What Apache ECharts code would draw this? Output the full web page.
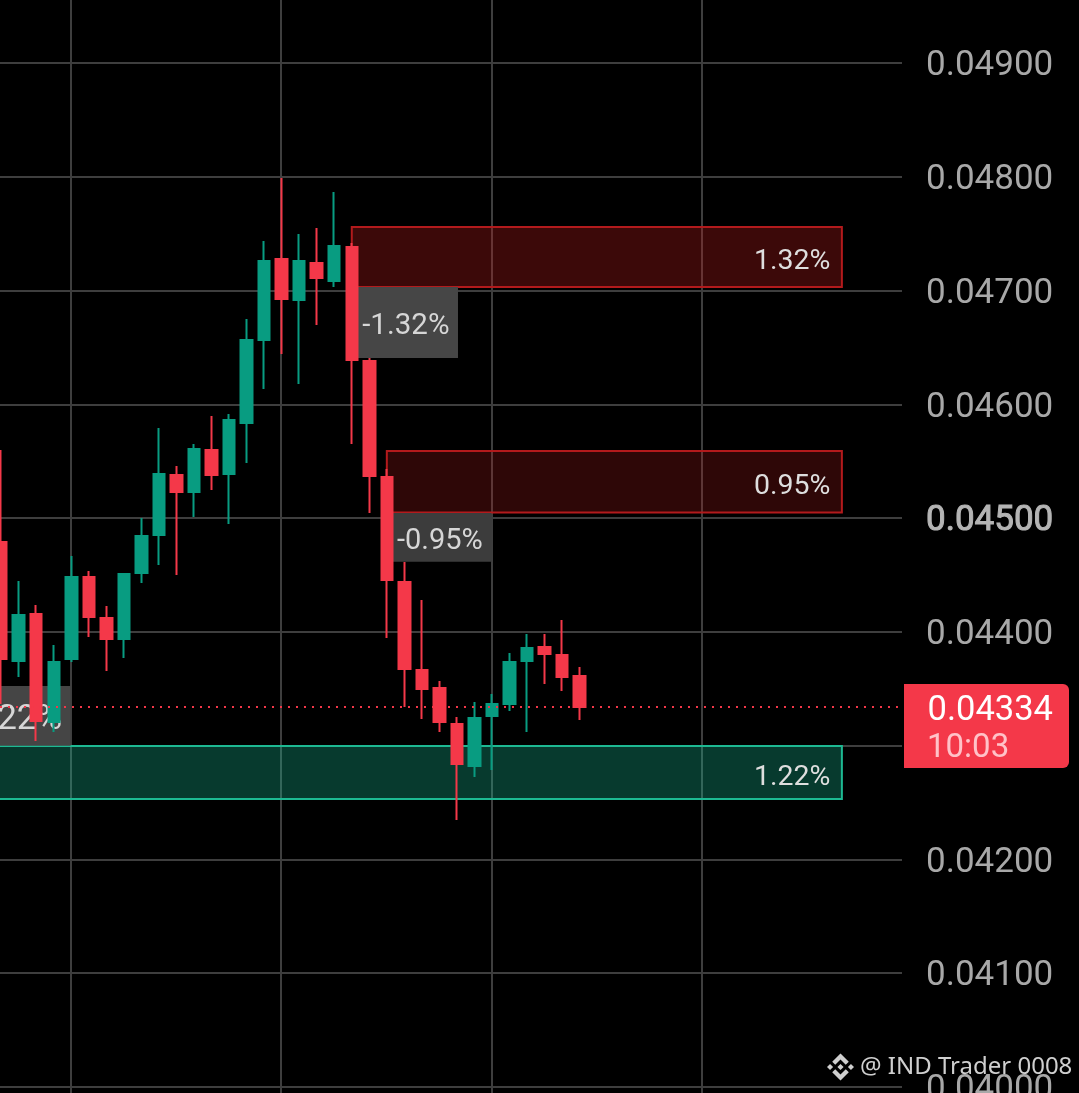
<!DOCTYPE html>
<html>
<head>
<meta charset="utf-8">
<style>html,body{margin:0;padding:0;background:#000}#c{width:1079px;height:1093px}</style>
<script src="https://cdn.jsdelivr.net/npm/echarts@6/dist/echarts.min.js"></script>
</head>
<body>
<div id="c"></div>
<script>
const opens  = [0.044799,0.043735,0.044166,0.043199,0.043753,0.044491,0.044131,0.043929,0.044509,0.044843,0.045388,0.045221,0.045608,0.045379,0.045827,0.046557,0.047286,0.046908,0.047251,0.047075,0.047392,0.046390,0.045370,0.044447,0.043674,0.043516,0.043199,0.042813,0.043252,0.043358,0.043735,0.043876,0.043806,0.043621];
const closes = [0.043753,0.044157,0.043208,0.043744,0.044491,0.044122,0.043929,0.044518,0.044852,0.045397,0.045221,0.045616,0.045370,0.045871,0.046574,0.047269,0.046917,0.047269,0.047102,0.047400,0.046381,0.045361,0.044447,0.043665,0.043489,0.043199,0.042830,0.043252,0.043375,0.043744,0.043867,0.043797,0.043595,0.043331];
const lows   = [0.043366,0.043604,0.043041,0.043120,0.043735,0.043955,0.043656,0.043771,0.044430,0.044588,0.044500,0.045010,0.045247,0.044948,0.045484,0.046135,0.046442,0.046179,0.046697,0.047031,0.045651,0.045045,0.043946,0.043340,0.043235,0.043120,0.042347,0.042725,0.042786,0.043305,0.043120,0.043542,0.043481,0.043226];
const highs  = [0.045599,0.044447,0.044236,0.043885,0.044667,0.044535,0.044228,0.044518,0.045001,0.045792,0.045458,0.045651,0.045898,0.045915,0.046750,0.047436,0.047989,0.047497,0.047550,0.047866,0.047418,0.046407,0.045432,0.044614,0.044280,0.043569,0.043252,0.043384,0.043454,0.043815,0.043982,0.043982,0.044105,0.043692];
const firstBar = 8.04;
const lastPrice = 0.04334;
const lastPriceText = '0.04334';
const countdownText = '10:03';

const zoneLabels = ['1.32%','0.95%','1.22%'];
const zoneFrom   = [28.04,30.04,0];
const zoneTo     = [56,56,56];
const zoneTop    = [0.047559,0.045590,0.042997];
const zoneBottom = [0.047031,0.045049,0.042531];
const zoneFill   = ['rgba(200,30,30,0.30)','rgba(200,30,30,0.23)','rgba(24,200,159,0.29)'];
const zoneEdge   = ['#b31a1c','#b31a1c','#1db992'];

const moveLabels = ['-1.32%','-0.95%','-1.22%'];
const moveFrom   = [28,30,6];
const moveTo     = [34.1,36,12];
const moveTop    = [0.047031,0.045045,0.043525];
const moveBottom = [0.046407,0.044617,0.043000];
const moveFill   = ['#464646','#3c3c3c','#454545'];
const moveFont   = [29.5,29,35];

const priceTicks = [0.039,0.05];
const watermark = '@ IND Trader 0008';
const logoPath = 'M38.73 53.2l24.59-24.58 24.6 24.6 14.3-14.31L63.32 0 24.43 38.9z M0 63.31l14.3-14.31 14.31 14.31-14.31 14.3z M38.73 73.41l24.59 24.59 24.6-24.6 14.31 14.29-38.9 38.91-38.91-38.88z M98 63.31l14.3-14.31 14.31 14.3-14.31 14.32z M77.83 63.3L63.32 48.78 52.59 59.51l-1.24 1.23-2.54 2.54 14.51 14.5 14.51-14.52z';

const RED = '#f43849', GREEN = '#089c81', GRIDC = '#3e3e3e', FONT = 'Roboto';
// The body outline adds half a stroke on each side, so open and close are drawn that much inside the read edges.
const strokeInset = 0.0000088;
const candleRows = opens.map((o,i)=>{
  const dir = closes[i] >= o ? 1 : -1;
  return [i+firstBar, o+dir*strokeInset, closes[i]-dir*strokeInset, lows[i], highs[i]];
});
const BAR_MAX = 59.43;

function zoneItem(params, api){
  const i = params.dataIndex;
  const a = api.coord([zoneFrom[i], zoneTop[i]]), b = api.coord([zoneTo[i], zoneBottom[i]]);
  return {type:'group',children:[
    {type:'rect',shape:{x:a[0],y:a[1],width:b[0]-a[0],height:b[1]-a[1]},
     style:{fill:zoneFill[i],stroke:zoneEdge[i],lineWidth:2}},
    {type:'text',style:{x:b[0]-11.5,y:(a[1]+b[1])/2+5,text:zoneLabels[i],align:'right',verticalAlign:'middle',
      fill:'#dedede',font:'28.5px '+FONT}}
  ]};
}
function moveItem(params, api){
  const i = params.dataIndex;
  const a = api.coord([moveFrom[i], moveTop[i]]), b = api.coord([moveTo[i], moveBottom[i]]);
  return {type:'group',children:[
    {type:'rect',shape:{x:a[0],y:a[1],width:b[0]-a[0],height:b[1]-a[1]},style:{fill:moveFill[i]}},
    {type:'text',style:{x:b[0]-8.5,y:(a[1]+b[1])/2+4,text:moveLabels[i],align:'right',verticalAlign:'middle',
      fill:'#d6d6d6',font:moveFont[i]+'px '+FONT}}
  ]};
}
function tagItem(params, api){
  const p = api.coord([BAR_MAX, lastPrice]);
  return {type:'group',children:[
    {type:'rect',shape:{x:p[0]+2,y:p[1]-23,width:165,height:84,r:[0,6,6,0]},style:{fill:RED}},
    {type:'text',style:{x:p[0]+25.5,y:p[1]+4,text:lastPriceText,align:'left',verticalAlign:'middle',fill:'#ffffff',font:'34.5px '+FONT}},
    {type:'text',style:{x:p[0]+25,y:p[1]+42,text:countdownText,align:'left',verticalAlign:'middle',fill:'#ffc2c8',font:'33px '+FONT}},
    {type:'path',shape:{pathData:logoPath,x:827,y:1053.5,width:27,height:27,layout:'center'},style:{fill:'#cfcfcf'}},
    {type:'text',style:{x:860,y:1067,text:watermark,align:'left',verticalAlign:'middle',fill:'#cfcfcf',font:'24px "Noto Sans"'}}
  ]};
}

const chart = echarts.init(document.getElementById('c'),null,{renderer:'canvas'});
chart.setOption({
  animation:false,
  backgroundColor:'#000',
  grid:{left:-139.74,top:-50.78,width:1041.74,height:1251.56,outerBoundsMode:'none',containLabel:false,show:false},
  xAxis:{type:'value',min:0,max:BAR_MAX,interval:12,
    axisLine:{show:false},axisTick:{show:false},axisLabel:{show:false},
    splitLine:{show:true,showMinLine:false,showMaxLine:false,lineStyle:{color:GRIDC,width:2}}},
  yAxis:{type:'value',position:'right',min:priceTicks[0],max:priceTicks[1],interval:0.001,
    axisLine:{show:false},axisTick:{show:false},
    axisLabel:{show:true,margin:24,color:'#a8a8a8',fontFamily:FONT,fontSize:35,hideOverlap:false,padding:[7,0,0,0],
      formatter:v=>{const s=Number(v).toFixed(5);return s==='0.04500'?'{b|'+s+'}':s;},
      rich:{b:{color:'#b4b4b4',fontFamily:FONT,fontSize:35,textBorderColor:'#b4b4b4',textBorderWidth:1}}},
    splitLine:{show:true,showMinLine:false,showMaxLine:false,lineStyle:{color:GRIDC,width:2}}},
  series:[
    {type:'custom',z:1,data:zoneLabels.map((_, i)=>[zoneFrom[i],zoneTop[i]]),encode:{x:0,y:1},renderItem:zoneItem,silent:true},
    {type:'custom',z:1,data:moveLabels.map((_, i)=>[moveFrom[i],moveTop[i]]),encode:{x:0,y:1},renderItem:moveItem,silent:true},
    {type:'candlestick',z:3,data:candleRows,encode:{x:0,y:[1,2,3,4]},barWidth:12,clip:false,
      itemStyle:{color:GREEN,color0:RED,borderColor:GREEN,borderColor0:RED,borderWidth:2},
      markLine:{silent:true,symbol:'none',z:5,label:{show:false},
        lineStyle:{color:RED,width:2,type:[2,6],cap:'butt'},
        data:[[{xAxis:7.9715,yAxis:lastPrice},{xAxis:59.2,yAxis:lastPrice}]]}},
    {type:'custom',z:10,data:[[BAR_MAX,lastPrice]],encode:{x:0,y:1},renderItem:tagItem,silent:true,clip:false}
  ]
});
</script>
</body>
</html>
